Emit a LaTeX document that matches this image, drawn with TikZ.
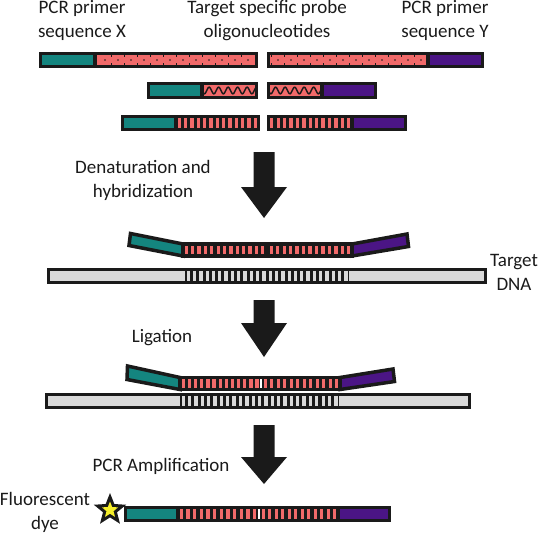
\documentclass[tikz,border=0pt]{standalone}
\usepackage{fontspec}
\setmainfont{Carlito}
\usetikzlibrary{shapes.geometric}
\definecolor{PrimerTeal}{HTML}{14857F}
\definecolor{ProbeRed}{HTML}{F26A6A}
\definecolor{PrimerPurple}{HTML}{4B1585}
\definecolor{DnaGrey}{HTML}{D9D9D9}
\definecolor{EdgeBlack}{HTML}{1A1A1A}
\definecolor{DyeYellow}{HTML}{F5EE2A}

% block arrow: top, head base, tip
\newcommand{\blockarrow}[3]{%
  \fill[EdgeBlack] (253.5,#1) -- (274.5,#1) -- (274.5,#2) -- (287,#2) -- (264,#3) -- (241,#2) -- (253.5,#2) -- cycle;}

% striped segment: x1, x2, y1, y2, bars, bar colour
\newcommand{\ladder}[6]{%
  \fill[EdgeBlack] (#1,#3) rectangle (#2,#4);
  \pgfmathsetmacro{\barstep}{(#2-#1)/#5}
  \foreach \i in {1,...,#5} {
    \fill[#6] ({#1+(\i-1)*\barstep+1.6},#3) rectangle +(3.3,#4-#3);
  }}

\begin{document}
\begin{tikzpicture}[x=1pt, y=-1pt,
    edge/.style={draw=EdgeBlack, line width=3.5pt, line join=miter},
    label/.style={font=\fontsize{19}{24}\selectfont, align=center, text=EdgeBlack}]
  \useasboundingbox (0,0) rectangle (540,533);

  % labels
  \node[label] (primerX) at (82,20) {PCR primer\\sequence X};
  \node[label] (probeText) at (267,21) {Target specific probe\\oligonucleotides};
  \node[label] (primerY) at (445,20) {PCR primer\\sequence Y};
  \node[label] (denat) at (143,180) {Denaturation and\\hybridization};
  \node[label] (targetText) at (514,272) {Target\\DNA};
  \node[label] (ligation) at (162,338) {Ligation};
  \node[label] (pcr) at (161,466) {PCR Amplification};
  \node[label] (dyeText) at (45,512) {Fluorescent\\dye};

  % probes, dotted
  \fill[PrimerTeal] (40.5,53.5) rectangle (95,66.5);
  \fill[ProbeRed] (95,53.5) rectangle (256.5,66.5);
  \fill[ProbeRed] (268.5,53.5) rectangle (428,66.5);
  \fill[PrimerPurple] (428,53.5) rectangle (482.5,66.5);
  \foreach \x in {105,118,...,250} \fill[EdgeBlack] (\x,60) circle (0.9pt);
  \foreach \x in {278,291,...,422} \fill[EdgeBlack] (\x,60) circle (0.9pt);
  \foreach \x in {111.5,124.5,...,250} \draw[EdgeBlack, line width=0.6pt] (\x,55) -- (\x,57) (\x,63) -- (\x,65);
  \foreach \x in {271.5,284.5,...,425} \draw[EdgeBlack, line width=0.6pt] (\x,55) -- (\x,57) (\x,63) -- (\x,65);
  \draw[edge] (40.5,53.5) rectangle (256.5,66.5) (95,53.5) -- (95,66.5);
  \draw[edge] (268.5,53.5) rectangle (482.5,66.5) (428,53.5) -- (428,66.5);

  % probes, wavy
  \fill[PrimerTeal] (148.5,83.5) rectangle (202,97.5);
  \fill[ProbeRed] (202,83.5) rectangle (256.5,97.5);
  \fill[ProbeRed] (268.5,83.5) rectangle (322,97.5);
  \fill[PrimerPurple] (322,83.5) rectangle (375.5,97.5);
  \draw[EdgeBlack, line width=1.5pt] plot[domain=202:256.5, samples=90, smooth] (\x,{90.5+3.3*sin((\x-202)*37.9)});
  \draw[EdgeBlack, line width=1.5pt] plot[domain=268.5:322, samples=90, smooth] (\x,{90.5+3.3*sin((\x-268.5)*37.9)});
  \draw[edge] (148.5,83.5) rectangle (256.5,97.5) (202,83.5) -- (202,97.5);
  \draw[edge] (268.5,83.5) rectangle (375.5,97.5) (322,83.5) -- (322,97.5);

  % probes, striped
  \fill[PrimerTeal] (122.5,116.5) rectangle (176,129.5);
  \ladder{176}{258.5}{116.5}{129.5}{13}{ProbeRed}
  \ladder{268.5}{352}{116.5}{129.5}{13}{ProbeRed}
  \fill[PrimerPurple] (352,116.5) rectangle (405.5,129.5);
  \draw[edge] (122.5,116.5) rectangle (258.5,129.5) (176,116.5) -- (176,129.5);
  \draw[edge] (268.5,116.5) rectangle (405.5,129.5) (352,116.5) -- (352,129.5);

  \blockarrow{152}{187}{218}

  % hybridized to target
  \fill[DnaGrey] (48.5,269.5) rectangle (185,282.5);
  \ladder{185}{349}{269.5}{282.5}{26}{DnaGrey}
  \fill[DnaGrey] (349,269.5) rectangle (485.5,282.5);
  \draw[edge] (48.5,269.5) rectangle (485.5,282.5);
  \filldraw[edge, fill=PrimerTeal] (130.5,233.5) -- (183,244) -- (183,256) -- (129,245.5) -- cycle;
  \ladder{183}{266}{244}{256}{13}{ProbeRed}
  \ladder{268}{352}{244}{256}{13}{ProbeRed}
  \draw[edge] (183,244) rectangle (266,256) (268,244) rectangle (352,256);
  \filldraw[edge, fill=PrimerPurple] (352,244) -- (407,234) -- (408.5,246.5) -- (352,256) -- cycle;

  \blockarrow{300}{323}{357}

  % ligated
  \fill[DnaGrey] (46.5,394.5) rectangle (180,407.5);
  \ladder{180}{339}{394.5}{407.5}{25}{DnaGrey}
  \fill[DnaGrey] (339,394.5) rectangle (469.5,407.5);
  \draw[edge] (46.5,394.5) rectangle (469.5,407.5);
  \filldraw[edge, fill=PrimerTeal] (127.5,366) -- (180,377.5) -- (180,389.5) -- (127,379.5) -- cycle;
  \ladder{180}{260}{377.5}{389.5}{13}{ProbeRed}
  \ladder{262}{340}{377.5}{389.5}{12}{ProbeRed}
  \draw[edge] (180,377.5) rectangle (340,389.5);
  \filldraw[edge, fill=PrimerPurple] (340,377.5) -- (393,369) -- (394.5,381.5) -- (340,389.5) -- cycle;

  \blockarrow{425}{457}{484}

  % amplified product
  \fill[PrimerTeal] (125.5,507.5) rectangle (178,520.5);
  \ladder{178}{258}{507.5}{520.5}{12}{ProbeRed}
  \ladder{260}{338}{507.5}{520.5}{12}{ProbeRed}
  \fill[PrimerPurple] (338,507.5) rectangle (389.5,520.5);
  \draw[edge] (125.5,507.5) rectangle (389.5,520.5) (178,507.5) -- (178,520.5) (338,507.5) -- (338,520.5);
  \node[star, star points=5, star point ratio=2.3, fill=EdgeBlack, minimum size=34pt, inner sep=0pt] (dye) at (110,510) {};
  \node[star, star points=5, star point ratio=2.3, fill=DyeYellow, minimum size=17pt, inner sep=0pt] (dyeCore) at (dye.center) {};
\end{tikzpicture}
\end{document}
